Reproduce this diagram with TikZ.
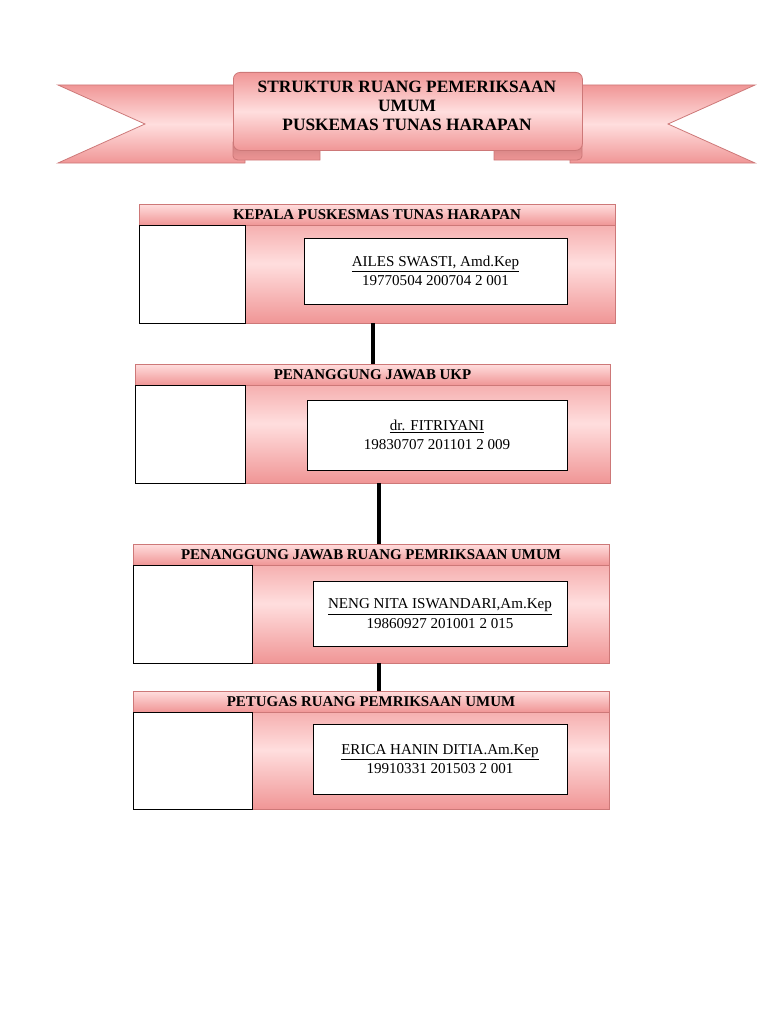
\documentclass[tikz,border=0pt]{standalone}
\usepackage{fontspec}
\setmainfont{Liberation Serif}
\begin{document}
\begin{tikzpicture}[x=0.75pt,y=-0.75pt,
  pinkfill/.style={top color=pdark,bottom color=pdark,middle color=plight,draw=pedge,line width=0.6pt},
  fold/.style={top color=pdark!85!black,bottom color=pdark,draw=pedge,line width=0.6pt},
  hdr/.style={top color=plight,bottom color=pdark,draw=pedge,line width=0.6pt},
  white/.style={fill=white,draw=black,line width=0.6pt},
  ttl/.style={font=\bfseries\fontsize{11.2}{13}\selectfont},
  nm/.style={font=\fontsize{11.3}{13.5}\selectfont,align=center},
  conn/.style={line width=2.4pt}]
\definecolor{pdark}{RGB}{240,150,150}
\definecolor{plight}{RGB}{255,222,222}
\definecolor{pedge}{RGB}{205,120,120}
\useasboundingbox (0,0) rectangle (768,1024);
% banner
\draw[pinkfill] (58,85) -- (245,85) -- (245,163) -- (58,163) -- (145,124) -- cycle;
\draw[pinkfill] (755,85) -- (570,85) -- (570,163) -- (755,163) -- (668,124) -- cycle;
\draw[fold] (233,142) -- (233,156) to[out=-90,in=180] (245,160) -- (320,160) -- (320,148) -- cycle;
\draw[fold] (582,142) -- (582,156) to[out=-90,in=0] (570,160) -- (494,160) -- (494,148) -- cycle;
\node[pinkfill,rounded corners=5pt,minimum width=349*0.75pt,minimum height=78*0.75pt,anchor=north west,inner sep=0pt] (banner) at (233,72) {};
\node[align=center,font=\bfseries\fontsize{13}{14.5}\selectfont] (title) at (407,106) {STRUKTUR RUANG PEMERIKSAAN\\UMUM\\PUSKEMAS TUNAS HARAPAN};
% boxes
\foreach \i/\xl/\xr/\yt/\yb/\wx/\ix/\ixr/\iyt/\iyb/\head/\name/\nip in {
 1/139/615/204/323/245/304/567/238/304/KEPALA PUSKESMAS TUNAS HARAPAN/{AILES SWASTI, Amd.Kep}/19770504 200704 2 001,
 2/135/610/364/483/245/307/567/400/470/PENANGGUNG JAWAB UKP/{dr. FITRIYANI}/19830707 201101 2 009,
 3/133/609/544/663/252/313/567/581/646/PENANGGUNG JAWAB RUANG PEMRIKSAAN UMUM/{NENG NITA ISWANDARI,Am.Kep}/19860927 201001 2 015,
 4/133/609/691/809/252/313/567/724/794/PETUGAS RUANG PEMRIKSAAN UMUM/{ERICA HANIN DITIA.Am.Kep}/19910331 201503 2 001}{
  \draw[pinkfill] (\xl,\yt) rectangle (\xr,\yb);
  \draw[hdr] (\xl,\yt) rectangle (\xr,\yt+21);
  \node[ttl] (h\i) at ({(\xl+\xr)/2},\yt+10.5) {\head};
  \draw[white] (\xl,\yt+21) rectangle (\wx,\yb);
  \draw[white] (\ix,\iyt) rectangle (\ixr,\iyb);
  \node[nm] (n\i) at ({(\ix+\ixr)/2},{(\iyt+\iyb)/2}) {\underline{\name}\\[1pt]\nip};
}
\draw[conn] (373,323) -- (373,364);
\draw[conn] (379,483) -- (379,544);
\draw[conn] (379,663) -- (379,691);
\end{tikzpicture}
\end{document}
